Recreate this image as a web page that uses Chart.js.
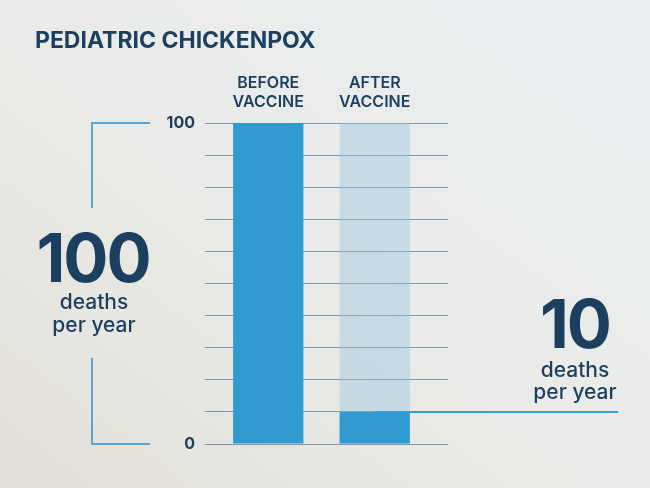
<!DOCTYPE html>
<html>
<head>
<meta charset="utf-8">
<script src="https://cdn.jsdelivr.net/npm/chart.js@4.4.1/dist/chart.umd.min.js"></script>
<style>
  html, body { margin: 0; padding: 0; }
  body {
    width: 650px; height: 488px; overflow: hidden;
    background: linear-gradient(to top right, #e2dfd7 0%, #eaebe8 45%, #e9eef1 100%);
  }
</style>
</head>
<body>
<canvas id="chart" width="650" height="488"></canvas>
<script>
// data
const categories = [["BEFORE", "VACCINE"], ["AFTER", "VACCINE"]];
const deathsPerYear = [100, 10];
const scaleBackdrop = [null, 100];   // pale column behind the "after" bar
const yTicksShown = [0, 100];
const calloutText = ["deaths", "per year"];

const FONT = "Inter, 'Open Sans', sans-serif";
const NAVY = "#1c3f5f";
const BAR = "#2f9bd1";
const PALE = "rgba(150, 196, 222, 0.42)";
const GRID = "#7d98ab";
const LINE = "#58a6d4";

Chart.defaults.font.family = FONT;

// bracket on the left, callouts and the 10-line to the right
const callouts = {
  id: "callouts",
  afterDatasetsDraw(chart) {
    const ctx = chart.ctx;
    const y = chart.scales.y;
    const top = y.getPixelForValue(100);
    const bottom = y.getPixelForValue(0);
    ctx.save();
    ctx.strokeStyle = LINE;
    ctx.lineWidth = 2;
    ctx.beginPath();
    ctx.moveTo(150, top); ctx.lineTo(92, top); ctx.lineTo(92, 208);
    ctx.moveTo(92, 358); ctx.lineTo(92, bottom); ctx.lineTo(150, bottom);
    ctx.stroke();

    const bar = chart.getDatasetMeta(0).data[1];
    ctx.strokeStyle = "#3a9dd5";
    ctx.beginPath();
    ctx.moveTo(bar.x, bar.y); ctx.lineTo(618, bar.y);
    ctx.stroke();

    ctx.fillStyle = NAVY;
    ctx.textAlign = "center";
    ctx.textBaseline = "alphabetic";
    // big values
    ctx.font = "bold 67px " + FONT;
    ctx.letterSpacing = "-2px";
    ctx.fillText(String(deathsPerYear[0]), 93, 282);
    ctx.fillText(String(deathsPerYear[1]), 575, 348);
    ctx.letterSpacing = "0px";
    ctx.font = "500 21px " + FONT;
    ctx.fillText(calloutText[0], 94, 309);
    ctx.fillText(calloutText[1], 94, 332);
    ctx.fillText(calloutText[0], 575, 377);
    ctx.fillText(calloutText[1], 575, 399);
    ctx.restore();
  }
};

new Chart(document.getElementById("chart"), {
  type: "bar",
  data: {
    labels: categories,
    datasets: [
      { data: deathsPerYear, backgroundColor: BAR, order: 0, grouped: false },
      { data: scaleBackdrop, backgroundColor: PALE, order: 1, grouped: false }
    ]
  },
  options: {
    responsive: false,
    animation: false,
    barPercentage: 0.66,
    categoryPercentage: 1,
    layout: { padding: { left: 35, right: 0, top: 0, bottom: 44 } },
    plugins: {
      legend: { display: false },
      tooltip: { enabled: false },
      title: {
        display: true,
        text: "PEDIATRIC CHICKENPOX",
        align: "start",
        color: NAVY,
        font: { size: 23, weight: "bold" },
        padding: { top: 27, bottom: 0 }
      }
    },
    scales: {
      x: {
        position: "top",
        offset: true,
        grid: { display: false, drawTicks: false },
        border: { display: false },
        ticks: { padding: 11, color: NAVY, font: { size: 16, weight: "600" } },
        afterFit(s) { s.height = 123 - 27 - 27.6; }
      },
      y: {
        position: "left",
        min: 0, max: 100,
        border: { display: false },
        grid: { color: GRID, lineWidth: 1, tickLength: 10 },
        ticks: {
          stepSize: 10, autoSkip: false, padding: 10, color: NAVY,
          font: { size: 16, weight: "bold" },
          callback: v => yTicksShown.includes(v) ? v : ""
        },
        afterFit(s) { s.width = 180; }
      },
      y2: {
        position: "right",
        min: 0, max: 100,
        border: { display: false },
        grid: { color: GRID, lineWidth: 1, tickLength: 20, drawOnChartArea: false },
        ticks: { stepSize: 10, display: false },
        afterFit(s) { s.width = 222; }
      }
    }
  },
  plugins: [callouts]
});
</script>
</body>
</html>
